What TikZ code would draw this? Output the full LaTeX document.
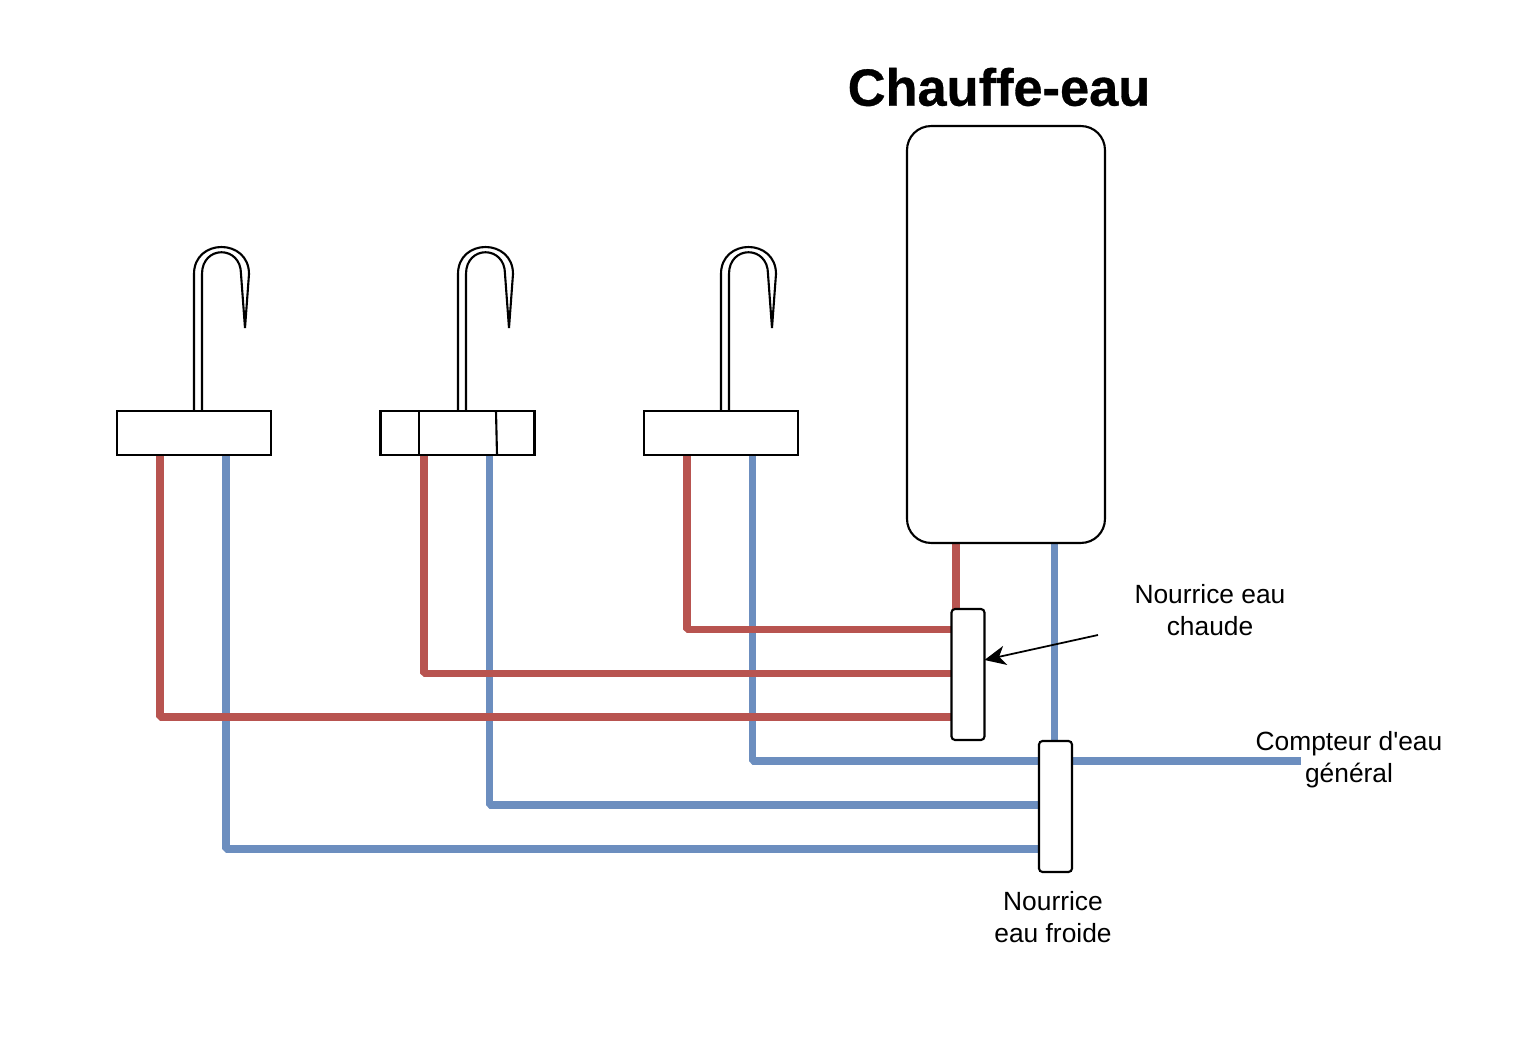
\documentclass[tikz,border=0pt]{standalone}
\usepackage{fontspec}
\setmainfont{Liberation Sans}
\newfontfamily\legendefont{Liberation Sans}
\newfontfamily\titrefont[BoldFeatures={FakeBold=0.6}]{Liberation Sans}
\usetikzlibrary{arrows.meta}
\definecolor{eauchaude}{HTML}{B85450}
\definecolor{eaufroide}{HTML}{6C8EBF}
\tikzset{
  bati/.style={draw, fill=white, line width=1.2pt, minimum width=3.08cm, minimum height=0.88cm, inner sep=0pt},
  nourrice/.style={draw, fill=white, line width=1.2pt, rounded corners=2pt, minimum width=0.66cm, minimum height=2.62cm, inner sep=0pt, outer sep=0pt},
  ballon/.style={draw, fill=white, line width=1.2pt, rounded corners=0.48cm, minimum width=3.96cm, minimum height=8.34cm, inner sep=0pt},
  chaud/.style={line width=4.5pt, line join=bevel, color=eauchaude},
  froid/.style={line width=4.5pt, line join=bevel, color=eaufroide},
  legende/.style={align=center, font=\legendefont\fontsize{15}{18.2}\selectfont},
  robinetligne/.style={line width=1.2pt}
}
\newcommand{\robinet}[1]{
  \draw[robinetligne, xshift=#1*0.02cm] (194,411) -- (194,274)
    .. controls (194,238) and (249,238) .. (249,274) -- (245,328)
    -- (241,274) .. controls (241,245) and (202,245) .. (202,274) -- (202,411);
}

\begin{document}
\begin{tikzpicture}[x=0.02cm, y=-0.02cm]
\useasboundingbox (0,0) rectangle (1536,1040);
\fill[white] (0,0) rectangle (1536,1040);

% robinets
\robinet{0}
\robinet{264}
\robinet{527}

\coordinate (ch1) at (160,455);
\coordinate (ch2) at (424,455);
\coordinate (ch3) at (687,455);
\coordinate (fr1) at (226,455);
\coordinate (fr2) at (489.5,455);
\coordinate (fr3) at (752.5,455);
\coordinate (nch1) at (951.5,717);
\coordinate (nch2) at (951.5,673.5);
\coordinate (nch3) at (951.5,629.5);
\coordinate (nfr1) at (1039,849);
\coordinate (nfr2) at (1039,805);
\coordinate (nfr3) at (1039,761);
\coordinate (nfrs) at (1072,761);
\coordinate (compteur) at (1301,761);
\coordinate (bch) at (956,543);
\coordinate (nchs) at (956,609);
\coordinate (bfr) at (1054.5,543);
\coordinate (nfrh) at (1054.5,741);

% tuyaux
\draw[froid] (fr1) |- (nfr1);
\draw[froid] (fr2) |- (nfr2);
\draw[froid] (fr3) |- (nfr3);
\draw[chaud] (ch1) |- (nch1);
\draw[chaud] (ch2) |- (nch2);
\draw[chaud] (ch3) |- (nch3);
\draw[chaud] (bch) -- (nchs);
\draw[froid] (bfr) -- (nfrh);
\draw[froid] (nfrs) -- (compteur);

% meubles
\node[bati] (bati1) at (194,433) {};
\node[bati] (bati2) at (457.5,433) {};
\node[bati] (bati3) at (721,433) {};
\draw[line width=1.2pt] (419,411) -- (419,455);
\draw[line width=1.2pt] (496,411) -- (497,455);

% chauffe-eau et nourrices
\node[ballon] (ballon) at (1006,334.5) {};
\node[nourrice] (nchaude) at (968,674.5) {};
\node[nourrice] (nfroide) at (1055.5,806.5) {};

% textes
\node[font=\titrefont\fontsize{29.8}{32}\selectfont\bfseries] (titre) at (999,87) {Chauffe-eau};
\node[legende] (lchaude) at (1210,610) {Nourrice eau\\chaude};
\node[legende] (lcompteur) at (1349,760) {Compteur d'eau\\général};
\node[legende] (lfroide) at (1053,917) {Nourrice\\eau froide};

\coordinate (fleche) at (1098,635);
\coordinate (cible) at (nchaude.east |- 0,660);
\draw[line width=1pt, -{Stealth[length=12pt, width=11pt, inset=3.5pt]}] (fleche) -- (cible);
\end{tikzpicture}
\end{document}
